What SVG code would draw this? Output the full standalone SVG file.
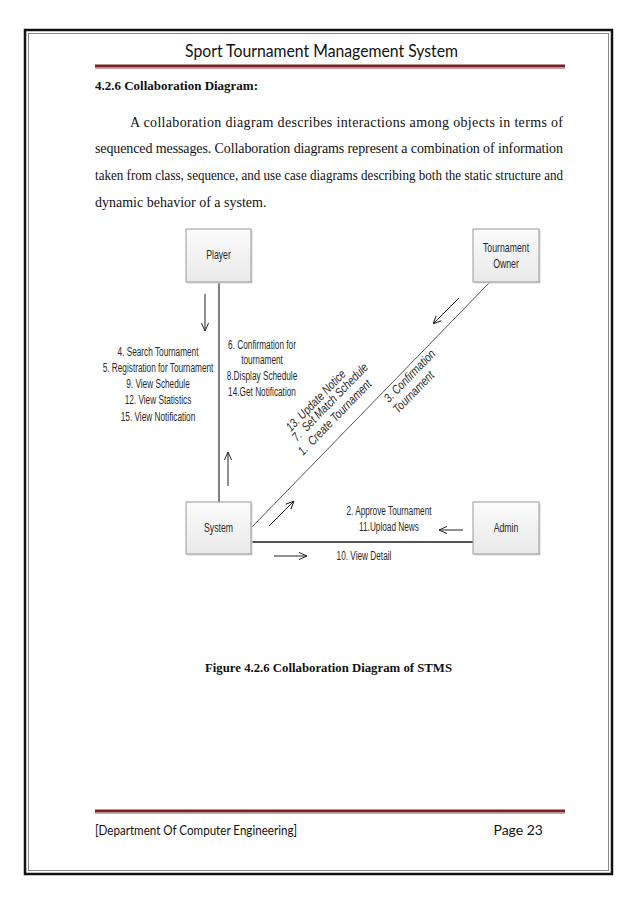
<svg xmlns="http://www.w3.org/2000/svg" width="638" height="902" viewBox="0 0 638 902">
<defs>
<style>
.ser{font-family:"Liberation Serif","Times New Roman",serif;font-size:14px;fill:#111}
.serb{font-family:"Liberation Serif","Times New Roman",serif;font-size:13.3px;font-weight:bold;fill:#111}
.cal{font-family:Lato,"Open Sans","Liberation Sans",sans-serif;fill:#111}
.nt{font-family:"Liberation Sans",Arial,sans-serif;font-size:12.5px;fill:#2a2a2a;text-anchor:middle}
.it{font-family:"Liberation Sans",Arial,sans-serif;font-size:12.5px;font-style:italic;fill:#2a2a2a}
.box{fill:url(#bg);stroke:#9a9a9a;stroke-width:1}
.shd{fill:#d8d8d8}
.conn{fill:none;stroke:#555}
.arr{fill:none;stroke:#222;stroke-width:1;marker-end:url(#ah)}
</style>
<linearGradient id="bg" x1="0" y1="0" x2="0" y2="1">
<stop offset="0" stop-color="#fbfbfb"/>
<stop offset="1" stop-color="#e9e9e9"/>
</linearGradient>
<marker id="ah" viewBox="0 0 10 10" refX="10" refY="5" markerWidth="9" markerHeight="9" markerUnits="userSpaceOnUse" orient="auto">
<path d="M1,1 L10,5 L1,9" fill="none" stroke="#222" stroke-width="1.1"/>
</marker>
</defs>

<!-- page -->
<rect x="25" y="30" width="587" height="844" fill="#fff" stroke="#111" stroke-width="2.5"/>
<rect x="28.5" y="33.5" width="580" height="837" fill="none" stroke="#888" stroke-width="1"/>

<text class="cal" x="321.5" y="57" font-size="18" text-anchor="middle" textLength="273" lengthAdjust="spacingAndGlyphs">Sport Tournament Management System</text>
<line x1="95" y1="66" x2="565" y2="66" stroke="#7a2222" stroke-width="3"/>
<line x1="95" y1="68.5" x2="565" y2="68.5" stroke="#c9a3a3" stroke-width="1"/>

<text class="serb" x="95" y="90" textLength="163" lengthAdjust="spacingAndGlyphs">4.2.6 Collaboration Diagram:</text>
<text class="ser" x="130" y="127" textLength="433" lengthAdjust="spacing">A collaboration diagram describes interactions among objects in terms of</text>
<text class="ser" x="95" y="153" textLength="468" lengthAdjust="spacing">sequenced messages. Collaboration diagrams represent a combination of information</text>
<text class="ser" x="95" y="180" textLength="468" lengthAdjust="spacingAndGlyphs">taken from class, sequence, and use case diagrams describing both the static structure and</text>
<text class="ser" x="95" y="207">dynamic behavior of a system.</text>

<!-- connectors -->
<g id="connectors">
<line class="conn" x1="219" y1="282" x2="219" y2="502" stroke-width="1.5"/>
<line class="conn" x1="490" y1="282" x2="251" y2="528" stroke-width="1"/>
<line class="conn" x1="251" y1="542" x2="473" y2="542" stroke-width="2"/>
<line class="arr" x1="205" y1="294" x2="205" y2="331"/>
<line class="arr" x1="228" y1="486" x2="228" y2="452"/>
<line class="arr" x1="459" y1="298" x2="433" y2="324"/>
<line class="arr" x1="269" y1="526" x2="294" y2="501"/>
<line class="arr" x1="463" y1="530" x2="439" y2="530"/>
<line class="arr" x1="274" y1="556" x2="307" y2="556"/>
<g id="labels">
<text class="nt" transform="translate(158,356) scale(0.66,1)">4. Search Tournament</text>
<text class="nt" transform="translate(158,372) scale(0.66,1)">5. Registration for Tournament</text>
<text class="nt" transform="translate(158,388) scale(0.66,1)">9. View Schedule</text>
<text class="nt" transform="translate(158,404) scale(0.66,1)">12. View Statistics</text>
<text class="nt" transform="translate(158,421) scale(0.66,1)">15. View Notification</text>
<text class="nt" transform="translate(262,349) scale(0.66,1)">6. Confirmation for</text>
<text class="nt" transform="translate(262,364) scale(0.66,1)">tournament</text>
<text class="nt" transform="translate(262,380) scale(0.66,1)">8.Display Schedule</text>
<text class="nt" transform="translate(262,396) scale(0.66,1)">14.Get Notification</text>
<text class="it" xml:space="preserve" transform="translate(291,432) rotate(-45.8) scale(0.8,1)">13. Update Notice</text>
<text class="it" xml:space="preserve" transform="translate(297,442) rotate(-45.8) scale(0.8,1)">7.  Set Match Schedule</text>
<text class="it" xml:space="preserve" transform="translate(303,456) rotate(-45.8) scale(0.8,1)">1.  Create Tournament</text>
<text class="it" transform="translate(389,403) rotate(-45.8) scale(0.8,1)">3. Confirmation</text>
<text class="it" transform="translate(398,414) rotate(-45.8) scale(0.8,1)">Tournament</text>
<text class="nt" transform="translate(389,515) scale(0.66,1)">2. Approve Tournament</text>
<text class="nt" transform="translate(389,531) scale(0.66,1)">11.Upload News</text>
<text class="nt" transform="translate(364,560) scale(0.66,1)">10. View Detail</text>
</g>
</g>

<!-- nodes -->
<g id="player">
<rect class="shd" x="187.5" y="230.5" width="65" height="53"/>
<rect class="box" x="186" y="229" width="65" height="53"/>
<text class="nt" transform="translate(218.5,259) scale(0.7,1)">Player</text>
</g>
<g id="tournament-owner">
<rect class="shd" x="474.5" y="230.5" width="66" height="53"/>
<rect class="box" x="473" y="229" width="66" height="53"/>
<text class="nt" transform="translate(506,252) scale(0.7,1)">Tournament</text>
<text class="nt" transform="translate(506,268) scale(0.7,1)">Owner</text>
</g>
<g id="system">
<rect class="shd" x="187.5" y="503.5" width="65" height="52"/>
<rect class="box" x="186" y="502" width="65" height="52"/>
<text class="nt" transform="translate(218.5,532) scale(0.7,1)">System</text>
</g>
<g id="admin">
<rect class="shd" x="474.5" y="503.5" width="66" height="52"/>
<rect class="box" x="473" y="502" width="66" height="52"/>
<text class="nt" transform="translate(506,532) scale(0.7,1)">Admin</text>
</g>

<text class="serb" x="328.5" y="672" text-anchor="middle" textLength="247" lengthAdjust="spacingAndGlyphs">Figure 4.2.6 Collaboration Diagram of STMS</text>

<line x1="95" y1="811" x2="565" y2="811" stroke="#7a2222" stroke-width="3"/>
<line x1="95" y1="813.5" x2="565" y2="813.5" stroke="#c9a3a3" stroke-width="1"/>
<text class="cal" x="95" y="835" font-size="14" textLength="202" lengthAdjust="spacingAndGlyphs">[Department Of Computer Engineering]</text>
<text class="cal" x="543" y="835" font-size="14" text-anchor="end">Page 23</text>
</svg>
